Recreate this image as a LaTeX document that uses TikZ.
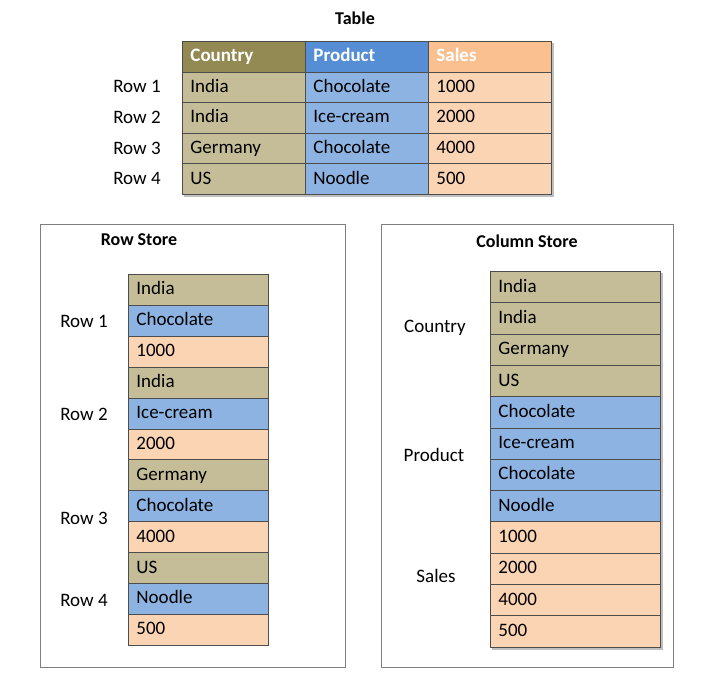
\documentclass[tikz,border=0pt]{standalone}
\usepackage{fontspec}
\setmainfont{Carlito}
\definecolor{tanD}{HTML}{938953}
\definecolor{tanL}{HTML}{C4BD97}
\definecolor{bluD}{HTML}{558ED5}
\definecolor{bluL}{HTML}{8DB3E2}
\definecolor{pchD}{HTML}{FAC090}
\definecolor{pchL}{HTML}{FBD4B4}
\definecolor{edge}{HTML}{4D4D4D}
\definecolor{boxedge}{HTML}{7F7F7F}
\begin{document}
\begin{tikzpicture}[x=1pt,y=-1pt,font=\fontsize{19}{22}\selectfont,
  cell/.style={draw=edge,line width=0.9pt,anchor=north west,inner xsep=8pt,inner ysep=0pt,align=left,text height=13pt,text depth=3pt},
  tcell/.style={cell,minimum width=123pt,text width=107pt,minimum height=30.6pt},
  rcell/.style={cell,minimum width=140pt,text width=124pt,minimum height=30.9pt},
  ccell/.style={cell,minimum width=170pt,text width=154pt,minimum height=31.3pt},
  hdr/.style={tcell,text=white,font=\fontsize{19}{22}\selectfont\bfseries},
  lbl/.style={inner sep=0pt},
  ttl/.style={inner sep=0pt,font=\fontsize{18}{22}\selectfont\bfseries},
  storebox/.style={draw=boxedge,line width=0.9pt,anchor=north west,inner sep=0pt},
  shade/.style={fill=black!25}]
\useasboundingbox (0,0) rectangle (724,682);
% title
\node[ttl] (ttable) at (355,18) {Table};
% table shadow
\fill[shade] (184,43) rectangle (554,197);
% header
\node[hdr,fill=tanD] (h1) at (182,41) {Country};
\node[hdr,fill=bluD] (h2) at (305,41) {Product};
\node[hdr,fill=pchD] (h3) at (428,41) {Sales};
\foreach \a/\b/\s [count=\i from 1] in {India/Chocolate/1000,India/Ice-cream/2000,Germany/Chocolate/4000,US/Noodle/500}{
  \node[tcell,fill=tanL] (t\i a) at (182,{41+30.6*\i}) {\a};
  \node[tcell,fill=bluL] (t\i b) at (305,{41+30.6*\i}) {\b};
  \node[tcell,fill=pchL] (t\i c) at (428,{41+30.6*\i}) {\s};
  \node[lbl] (tr\i) at (137,{56.3+30.6*\i}) {Row \i};
}
% Row store
\node[storebox,minimum width=305pt,minimum height=443pt] (rsbox) at (40,224) {};
\node[ttl] (rstitle) at (139,240) {Row Store};
\foreach \t/\c [count=\i from 0] in {India/tanL,Chocolate/bluL,1000/pchL,India/tanL,Ice-cream/bluL,2000/pchL,Germany/tanL,Chocolate/bluL,4000/pchL,US/tanL,Noodle/bluL,500/pchL}{
  \node[rcell,fill=\c] (rs\i) at (128,{274+30.9*\i}) {\t};
}
\node[lbl] (rl1) at (84,321) {Row 1};
\node[lbl] (rl2) at (84,414) {Row 2};
\node[lbl] (rl3) at (84,518) {Row 3};
\node[lbl] (rl4) at (84,600) {Row 4};
% Column store
\node[storebox,minimum width=292pt,minimum height=443pt] (csbox) at (381,224) {};
\node[ttl] (cstitle) at (527,241) {Column Store};
\fill[shade] (492,273) rectangle (663,650);
\foreach \t/\c [count=\i from 0] in {India/tanL,India/tanL,Germany/tanL,US/tanL,Chocolate/bluL,Ice-cream/bluL,Chocolate/bluL,Noodle/bluL,1000/pchL,2000/pchL,4000/pchL,500/pchL}{
  \node[ccell,fill=\c] (cs\i) at (490,{271+31.3*\i}) {\t};
}
\node[lbl] (cl1) at (435,328) {Country};
\node[lbl] (cl2) at (434,455) {Product};
\node[lbl] (cl3) at (436,576) {Sales};
\end{tikzpicture}
\end{document}
